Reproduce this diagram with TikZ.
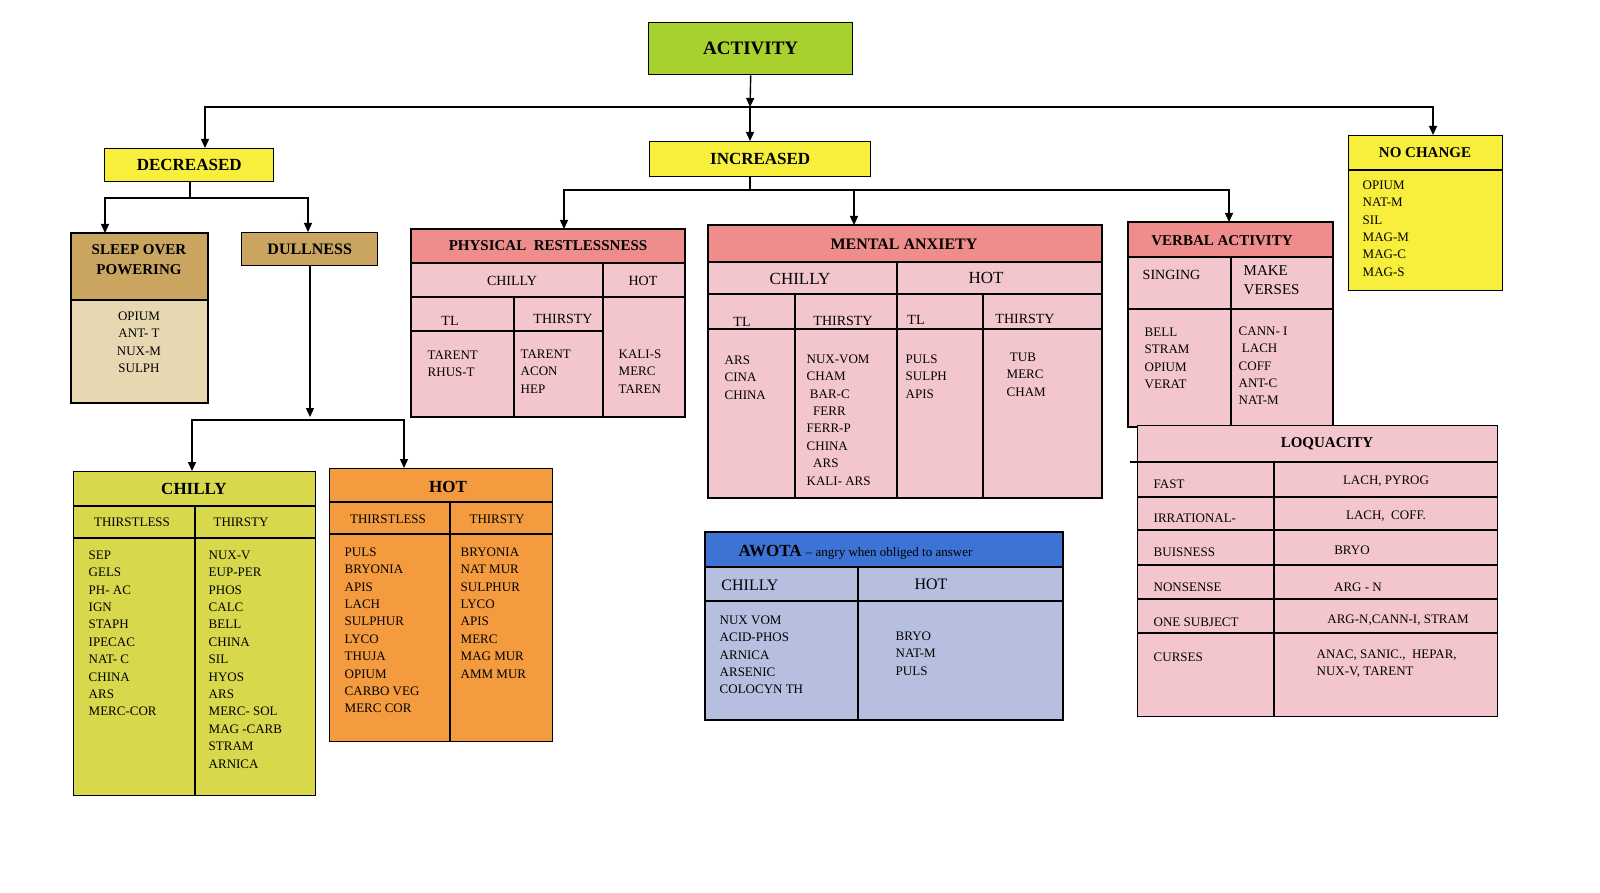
\documentclass[tikz,border=0pt]{standalone}
\usepackage{fontspec}
\setmainfont{Liberation Serif}
\usetikzlibrary{arrows.meta}
\definecolor{lime}{HTML}{A6D12E}
\definecolor{yel}{HTML}{F7EF3C}
\definecolor{tanh}{HTML}{C9A55F}
\definecolor{tanb}{HTML}{E8D8B2}
\definecolor{olive}{HTML}{D8D84C}
\definecolor{orng}{HTML}{F39B3E}
\definecolor{pinkh}{HTML}{EF8C8C}
\definecolor{pinkb}{HTML}{F3C6CE}
\definecolor{blueh}{HTML}{3D73D4}
\definecolor{blueb}{HTML}{B6BFE0}
\begin{document}
\begin{tikzpicture}[x=1pt,y=-1pt,line width=1.4pt,
 box/.style={draw,anchor=north west,inner sep=0,minimum width=#1},
 arr/.style={-{Triangle[length=9pt,width=8pt]}},
 lst/.style={anchor=north west,inner sep=0,align=left,font=\fontsize{13}{17.4}\selectfont},
 lstc/.style={anchor=north,inner sep=0,align=center,font=\fontsize{13}{17.4}\selectfont},
 hd/.style={inner sep=0,font=\bfseries\fontsize{15}{17}\selectfont},
 sh/.style={inner sep=0,font=\fontsize{14}{16}\selectfont},
 sm/.style={inner sep=0,font=\fontsize{13}{15}\selectfont}]
\useasboundingbox (0,0) rectangle (1600,893);
\fill[white] (0,0) rectangle (1600,893);
% top level
\node[box=204pt,minimum height=52pt,fill=lime] (act) at (648,22) {};
\node[hd,font=\bfseries\fontsize{19}{21}\selectfont] at (act.center) {ACTIVITY};
\node[box=169pt,minimum height=33pt,fill=yel] (dec) at (104,148) {};
\node[hd,font=\bfseries\fontsize{17}{19}\selectfont] at (dec.center) {DECREASED};
\node[box=221pt,minimum height=35pt,fill=yel] (inc) at (649,141) {};
\node[hd,font=\bfseries\fontsize{17}{19}\selectfont] at (inc.center) {INCREASED};
% no change
\node[box=154pt,minimum height=155pt,fill=yel] (noc) at (1348,135) {};
\draw (1348,170) -- (1502,170);
\node[hd] at (1425,153) {NO CHANGE};
\node[lst] at (1362,180) {OPIUM\\NAT-M\\SIL\\MAG-M\\MAG-C\\MAG-S};
% connectors top
\coordinate (ja) at (750,107);
\coordinate (jl) at (205,107);
\coordinate (jr) at (1433,107);
\draw[arr] (act.south) -- (ja);
\draw[arr] (ja) -- (ja |- inc.north);
\draw[arr] (ja) -- (jl) -- (jl |- dec.north);
\draw[arr] (ja) -- (jr) -- (jr |- noc.north);
% decreased branch
\node[box=137pt,minimum height=170pt,fill=tanb] (sleep) at (71,233) {};
\fill[tanh] (71,233) rectangle (208,300);
\draw (71,233) rectangle (208,403);
\draw (71,300) -- (208,300);
\node[hd,align=center,font=\bfseries\fontsize{15}{20}\selectfont] at (139,260) {SLEEP OVER\\POWERING};
\node[lstc] at (139,311) {OPIUM\\ANT- T\\NUX-M\\SULPH};
\node[box=136pt,minimum height=33pt,fill=tanh] (dull) at (241,232) {};
\node[hd,font=\bfseries\fontsize{16}{18}\selectfont] at (dull.center) {DULLNESS};
\coordinate (jd) at (190,198);
\draw (jd |- dec.south) -- (jd);
\draw[arr] (jd) -| (sleep.north -| 105,0);
\draw[arr] (jd) -| (308,232);
% chilly & hot
\node[box=242pt,minimum height=324pt,fill=olive] (chb) at (73,471) {};
\draw (73,506) -- (315,506) (73,538) -- (315,538) (195,506) -- (195,795);
\node[hd,font=\bfseries\fontsize{17}{19}\selectfont] at (194,489) {CHILLY};
\node[sm] at (132,522) {THIRSTLESS};
\node[sm] at (241,522) {THIRSTY};
\node[lst] at (88,550) {SEP\\GELS\\PH- AC\\IGN\\STAPH\\IPECAC\\NAT- C\\CHINA\\ARS\\MERC-COR};
\node[lst] at (208,550) {NUX-V\\EUP-PER\\PHOS\\CALC\\BELL\\CHINA\\SIL\\HYOS\\ARS\\MERC- SOL\\MAG -CARB\\STRAM\\ARNICA};
\node[box=223pt,minimum height=273pt,fill=orng] (hotb) at (329,468) {};
\draw (329,502) -- (552,502) (329,534) -- (552,534) (450,502) -- (450,741);
\node[hd,font=\bfseries\fontsize{17}{19}\selectfont] at (448,487) {HOT};
\node[sm] at (388,519) {THIRSTLESS};
\node[sm] at (497,519) {THIRSTY};
\node[lst] at (344,547) {PULS\\BRYONIA\\APIS\\LACH\\SULPHUR\\LYCO\\THUJA\\OPIUM\\CARBO VEG\\MERC COR};
\node[lst] at (460,547) {BRYONIA\\NAT MUR\\SULPHUR\\LYCO\\APIS\\MERC\\MAG MUR\\AMM MUR};
\coordinate (jc) at (310,420);
\draw[arr] (dull.south -| 310,0) -- (310,417);
\draw[arr] (jc) -| (192,471);
\draw[arr] (jc) -| (404,468);
% increased branch
\coordinate (ji) at (750,190);
\draw (ji |- inc.south) -- (ji);
\node[box=274pt,minimum height=188pt,fill=pinkb] (phy) at (411,229) {};
\fill[pinkh] (411,229) rectangle (685,263);
\draw (411,229) rectangle (685,417);
\draw (411,263) -- (685,263) (411,297) -- (685,297) (411,331) -- (603,331) (603,263) -- (603,417) (514,297) -- (514,417);
\node[hd] at (548,246) {PHYSICAL\ \ RESTLESSNESS};
\node[sh] at (512,281) {CHILLY};
\node[sh] at (643,281) {HOT};
\node[sh] at (450,321) {TL};
\node[sh] at (563,319) {THIRSTY};
\node[lst] at (427,350) {TARENT\\RHUS-T};
\node[lst] at (520,349) {TARENT\\ACON\\HEP};
\node[lst] at (618,349) {KALI-S\\MERC\\TAREN};
\node[box=394pt,minimum height=273pt,fill=pinkb] (men) at (708,225) {};
\fill[pinkh] (708,225) rectangle (1102,262);
\draw (708,225) rectangle (1102,498);
\draw (708,262) -- (1102,262) (708,294) -- (1102,294) (708,329) -- (1102,329) (897,262) -- (897,498) (795,294) -- (795,498) (983,294) -- (983,498);
\node[hd,font=\bfseries\fontsize{16}{18}\selectfont] at (904,244) {MENTAL ANXIETY};
\node[sh,font=\fontsize{17}{19}\selectfont] at (800,279) {CHILLY};
\node[sh,font=\fontsize{17}{19}\selectfont] at (986,278) {HOT};
\node[sh] at (742,322) {TL};
\node[sh] at (843,321) {THIRSTY};
\node[sh] at (916,320) {TL};
\node[sh] at (1025,319) {THIRSTY};
\node[lst] at (724,355) {ARS\\CINA\\CHINA};
\node[lst] at (806,354) {NUX-VOM\\CHAM\\\ BAR-C\\\ \ FERR\\FERR-P\\CHINA\\\ \ ARS\\KALI- ARS};
\node[lst] at (905,354) {PULS\\SULPH\\APIS};
\node[lst] at (1006,352) {\ TUB\\MERC\\CHAM};
\node[box=205pt,minimum height=205pt,fill=pinkb] (verb) at (1128,222) {};
\fill[pinkh] (1128,222) rectangle (1333,257);
\draw (1128,222) rectangle (1333,427);
\draw (1128,257) -- (1333,257) (1128,309) -- (1333,309) (1231,257) -- (1231,427);
\node[hd] at (1222,241) {VERBAL ACTIVITY};
\node[sh,anchor=west] at (1142,275) {SINGING};
\node[sh,anchor=north west,align=left,font=\fontsize{15}{19}\selectfont] at (1243,265) {MAKE\\VERSES};
\node[lst] at (1144,327) {BELL\\STRAM\\OPIUM\\VERAT};
\node[lst] at (1238,326) {CANN- I\\\ LACH\\COFF\\ANT-C\\NAT-M};
\draw[arr] (ji) -| (564,229);
\draw[arr] (ji) -| (854,225);
\draw[arr] (ji) -| (1229,222);
% loquacity
\node[box=360pt,minimum height=291pt,fill=pinkb] (loq) at (1137,425) {};
\draw (1130,462) -- (1497,462);
\foreach \y in {497,530,565,599,633} \draw (1137,\y) -- (1497,\y);
\draw (1274,462) -- (1274,716);
\node[hd] at (1327,444) {LOQUACITY};
\foreach \t/\y in {FAST/484,IRRATIONAL-/518,BUISNESS/552,NONSENSE/587,ONE SUBJECT/622,CURSES/657}
  \node[sm,anchor=west] at (1153,\y) {\t};
\node[sm] at (1386,481) {LACH, PYROG};
\node[sm] at (1386,516) {LACH,\ \ COFF.};
\node[sm] at (1352,550) {BRYO};
\node[sm] at (1358,587) {ARG - N};
\node[sm] at (1398,620) {ARG-N,CANN-I, STRAM};
\node[sm,anchor=north west,align=left,font=\fontsize{13}{17}\selectfont] at (1316,649) {ANAC, SANIC.,\ \ HEPAR,\\NUX-V, TARENT};
% awota
\node[box=358pt,minimum height=188pt,fill=blueb] (awo) at (705,532) {};
\fill[blueh] (705,532) rectangle (1063,567);
\draw (705,532) rectangle (1063,720);
\draw (705,567) -- (1063,567) (705,601) -- (1063,601) (858,567) -- (858,720);
\node[inner sep=0,anchor=west] at (738,552) {\bfseries\fontsize{17}{19}\selectfont AWOTA\ \mdseries\fontsize{13}{15}\selectfont -- angry when obliged to answer};
\node[sh,font=\fontsize{16}{18}\selectfont] at (750,585) {CHILLY};
\node[sh,font=\fontsize{16}{18}\selectfont] at (931,584) {HOT};
\node[lst] at (719,615) {NUX VOM\\ACID-PHOS\\ARNICA\\ARSENIC\\COLOCYN TH};
\node[lst] at (895,631) {BRYO\\NAT-M\\PULS};
\end{tikzpicture}
\end{document}
